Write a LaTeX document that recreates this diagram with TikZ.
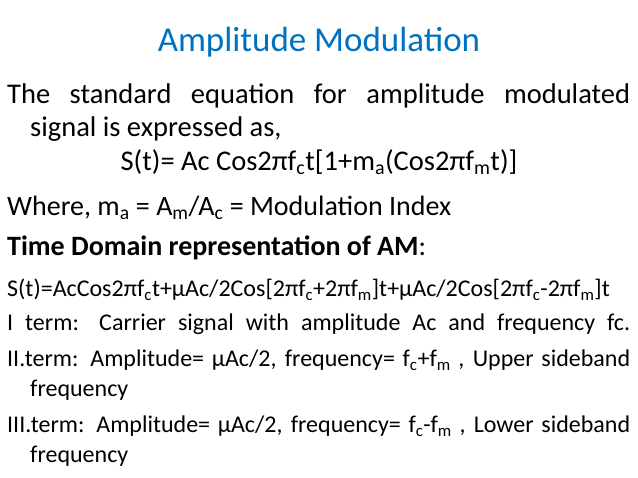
\documentclass[tikz,border=0pt]{standalone}
\usepackage{fontspec}
\setmainfont{Carlito}
\definecolor{titleblue}{RGB}{0,112,192}
\newcommand{\sbs}[1]{\textsubscript{#1}}
\begin{document}
\begin{tikzpicture}[x=1pt,y=-1pt,
  txt/.style={anchor=base west,inner sep=0pt},
  big/.style={font=\fontsize{28.5}{32}\selectfont},
  med/.style={font=\fontsize{28}{32}\selectfont},
  sml/.style={font=\fontsize{24}{28}\selectfont}]
\useasboundingbox (0,0) rectangle (638,478);
\node[anchor=base,inner sep=0pt,text=titleblue,font=\fontsize{35}{40}\selectfont] (title) at (319,52) {Amplitude Modulation};
\node[txt,big] (l1) at (7,104) {\makebox[623pt][s]{The standard equation for amplitude modulated}};
\node[txt,big] (l2) at (30,137) {signal is expressed as,};
\node[anchor=base,inner sep=0pt,big] (eq) at (319,171) {S(t)= Ac Cos2πf\sbs{c}t[1+m\sbs{a}(Cos2πf\sbs{m}t)]};
\node[txt,med] (l3) at (7,216) {Where, m\sbs{a} = A\sbs{m}/A\sbs{c} = Modulation Index};
\node[txt,med] (l4) at (7,256) {\textbf{Time Domain representation of AM}:};
\node[txt,sml] (l5) at (7,297) {\makebox[625pt][s]{S(t)=AcCos2πf\sbs{c}t+μAc/2Cos[2πf\sbs{c}+2πf\sbs{m}]t+μAc/2Cos[2πf\sbs{c}-2πf\sbs{m}]t}};
\node[txt,sml] (l6) at (7,331) {\makebox[623pt][s]{I term: Carrier signal with amplitude Ac and frequency fc.}};
\node[txt,sml] (l7) at (7,367) {\makebox[623pt][s]{II.term: Amplitude= μAc/2, frequency= f\sbs{c}+f\sbs{m} , Upper sideband}};
\node[txt,sml] (l8) at (30,397) {frequency};
\node[txt,sml] (l9) at (7,433) {\makebox[623pt][s]{III.term: Amplitude= μAc/2, frequency= f\sbs{c}-f\sbs{m} , Lower sideband}};
\node[txt,sml] (l10) at (30,463) {frequency};
\end{tikzpicture}
\end{document}
